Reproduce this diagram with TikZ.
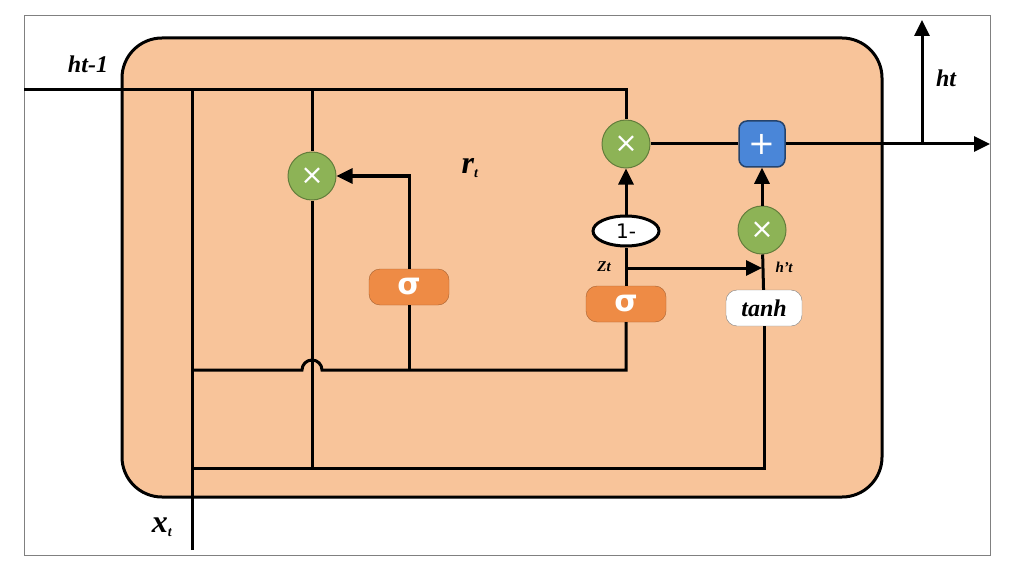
\documentclass[tikz,border=0pt]{standalone}
\usepackage{fontspec}
\setmainfont{Liberation Serif}
\newfontfamily\dv{DejaVu Sans}
\usetikzlibrary{arrows.meta,shapes.geometric}
\definecolor{bg}{HTML}{F8C49A}
\definecolor{gr}{HTML}{8DB356}
\definecolor{bl}{HTML}{4A86D8}
\definecolor{og}{HTML}{EE8B45}
\begin{document}
\begin{tikzpicture}[x=1pt,y=-1pt,
 ln/.style={line width=3pt,black},
 ar/.style={ln,-{Triangle[length=16pt,width=15pt]}},
 mul/.style={circle,fill=gr,draw=gr!70!black,line width=1pt,minimum size=48pt,inner sep=0pt,text=white,font=\dv\fontsize{28}{28}\selectfont},
 plusbox/.style={rounded corners=8pt,fill=bl,draw=bl!50!black,line width=1.5pt,minimum size=46pt,inner sep=0pt,text=white,font=\dv\fontsize{32}{32}\selectfont},
 sig/.style={rounded corners=11pt,fill=og,draw=og!70!black,minimum width=80pt,minimum height=36pt,text=white,font=\dv\bfseries\fontsize{30}{30}\selectfont},
 th/.style={rounded corners=11pt,fill=white,draw=gray,minimum width=76pt,minimum height=36pt,font=\bfseries\itshape\fontsize{24}{24}\selectfont},
 lbl/.style={font=\bfseries\itshape}]
\useasboundingbox (0,0) rectangle (1016,572);
\draw[gray,line width=1pt] (24,16) rectangle (990,555);
\draw[line width=3pt,fill=bg,rounded corners=40pt] (122,38) rectangle (882,497);
\node[mul] (m1) at (626,144) {×};
\node[plusbox] (p) at (762,144) {+};
\node[mul] (mr) at (312,176) {×};
\node[mul] (m2) at (762,230) {×};
\node[ellipse,draw,line width=3pt,fill=white,minimum width=66pt,minimum height=30pt,inner sep=0pt,font=\dv\fontsize{20}{20}\selectfont] (om) at (626,231) {1-};
\node[sig] (s1) at (409,287) {σ};
\node[sig] (s2) at (626,304) {σ};
\node[th] (t) at (764,308) {tanh};
\coordinate (hin) at (24,90);
\coordinate (out) at (990,144);
\coordinate (up) at (922,20);
\coordinate (xin) at (192,550);
\coordinate (zb) at (626,268);
\draw[ln] (hin) -- (626,90) -- (m1);
\draw[ln] (xin) -- (192,90);
\draw[ln] (312,90) -- (mr);
\draw[ln] (mr) -- (312,468);
\draw[ln] (192,468) -- (764,468) -- (t);
\draw[ln] (192,370) -- (302,370) arc[start angle=180,end angle=0,radius=10pt] -- (626,370) -- (s2);
\draw[ln] (409,370) -- (s1);
\draw[ar] (s1) -- (409,176) -- (mr);
\draw[ln] (s2) -- (om);
\draw[ar] (om) -- (m1);
\draw[ar] (zb) -- (762,268);
\draw[ln] (t) -- (m2);
\draw[ar] (m2) -- (p);
\draw[ln] (m1) -- (p);
\draw[ar] (p) -- (out);
\draw[ar] (922,144) -- (up);
\node[lbl,font=\bfseries\itshape\fontsize{24}{24}\selectfont] at (88,64) {ht-1};
\node[lbl,font=\bfseries\itshape\fontsize{24}{24}\selectfont] at (946,78) {ht};
\node[lbl,font=\bfseries\itshape\fontsize{32}{32}\selectfont] at (162,527) {x\textsubscript{\fontsize{14}{14}\selectfont t}};
\node[lbl,font=\bfseries\itshape\fontsize{32}{32}\selectfont] at (470,168) {r\textsubscript{\fontsize{14}{14}\selectfont t}};
\node[lbl,font=\bfseries\itshape\fontsize{15}{15}\selectfont] at (604,267) {Zt};
\node[lbl,font=\bfseries\itshape\fontsize{15}{15}\selectfont] at (784,267) {h't};
\end{tikzpicture}
\end{document}
